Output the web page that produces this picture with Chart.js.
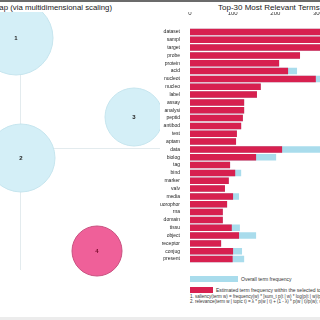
<!DOCTYPE html>
<html>
<head>
<meta charset="utf-8">
<script src="https://cdn.jsdelivr.net/npm/chart.js@4.4.1/dist/chart.umd.min.js"></script>
<style>
  body { margin: 0; width: 320px; height: 320px; overflow: hidden; background: #fff; position: relative;
         font-family: "Liberation Sans", Arial, sans-serif; color: #222; }
  .abs { position: absolute; white-space: nowrap; }
  #topbar { left: 0; top: 0; width: 320px; height: 2px; background: #6b6b6b; }
  #botbar { left: 0; top: 317px; width: 320px; height: 3px; background: #ececec; }
  #leftTitle { right: 208px; top: 3px; font-size: 7.8px; color: #1a1a1a; }
  #rightTitle { left: 218px; top: 3px; font-size: 8px; color: #1a1a1a; }
  #leftWrap { left: 0; top: 12px; width: 160px; height: 268px; overflow: hidden; }
  #rightWrap { left: 160px; top: 12px; width: 160px; height: 256px; overflow: hidden; }
  .box { position: absolute; }
  .legTxt { font-size: 5px; color: #333; }
  .note { font-size: 4.5px; color: #333; }
</style>
</head>
<body>
<div id="topbar" class="abs"></div>
<div id="leftTitle" class="abs">Intertopic Distance Map (via multidimensional scaling)</div>
<div id="rightTitle" class="abs">Top-30 Most Relevant Terms for Topic 4 (17.1% of tokens)</div>
<div id="leftWrap" class="abs"><canvas id="mds" width="160" height="268"></canvas></div>
<div id="rightWrap" class="abs"><canvas id="terms" width="320" height="256"></canvas></div>

<div class="box" style="left:190px;top:276px;width:48px;height:6px;background:#a9dcec"></div>
<div class="abs legTxt" style="left:241px;top:276px">Overall term frequency</div>
<div class="box" style="left:190px;top:287px;width:23px;height:6px;background:#d7204f"></div>
<div class="abs legTxt" style="left:216px;top:287px">Estimated term frequency within the selected topic</div>
<div class="abs note" style="left:190px;top:294px">1. saliency(term w) = frequency(w) * [sum_t p(t | w) * log(p(t | w)/p(t))] for topics t; see Chuang et. al (2012)</div>
<div class="abs note" style="left:190px;top:299px">2. relevance(term w | topic t) = λ * p(w | t) + (1 - λ) * p(w | t)/p(w); see Sievert &amp; Shirley (2014)</div>
<div id="botbar" class="abs"></div>

<script>
// intertopic distance map
const topics = ['1', '2', '3', '4'];
const pc1 = [-0.01, 0.0025, 0.285, 0.1925];
const pc2 = [0.275, -0.025, 0.0775, -0.2575];
const topicRadius = [37, 34, 29, 25];
const selectedTopic = 3;

// top-30 terms for selected topic
const terms = ['dataset', 'sampl', 'target', 'probe', 'protein', 'acid', 'nucleot', 'nucleo', 'label', 'assay',
  'analysi', 'peptid', 'antibod', 'test', 'aptam', 'data', 'biolog', 'tag', 'bind', 'marker',
  'valv', 'media', 'fluorophor', 'rna', 'domain', 'tissu', 'object', 'receptor', 'conjug', 'present'];
const estimatedFreq = [380, 360, 345, 258, 209, 230, 295, 166, 157, 127,
  127, 124, 120, 110, 108, 216, 155, 94, 106, 91,
  82, 101, 87, 77, 77, 98, 115, 73, 101, 100];
const overallFreq = [400, 380, 360, 258, 209, 251, 320, 166, 157, 127,
  127, 124, 120, 110, 108, 345, 202, 94, 120, 91,
  82, 115, 87, 77, 77, 117, 155, 73, 122, 127];
const freqTicks = [0, 100, 200, 300];

const axisLines = {
  id: 'axisLines',
  beforeDatasetsDraw(chart) {
    const { ctx, scales: { x, y } } = chart;
    ctx.save();
    ctx.strokeStyle = '#e3ebee';
    ctx.lineWidth = 1;
    ctx.beginPath();
    ctx.moveTo(Math.round(x.getPixelForValue(0)) + 0.5, y.getPixelForValue(0.3075));
    ctx.lineTo(Math.round(x.getPixelForValue(0)) + 0.5, y.getPixelForValue(-0.305));
    ctx.moveTo(x.getPixelForValue(-0.05), Math.round(y.getPixelForValue(0)) + 0.5);
    ctx.lineTo(x.getPixelForValue(0.35), Math.round(y.getPixelForValue(0)) + 0.5);
    ctx.stroke();
    ctx.fillStyle = '#999';
    ctx.font = '4.5px "Liberation Sans", Arial, sans-serif';
    ctx.textBaseline = 'top';
    ctx.fillText('PC2', x.getPixelForValue(0) + 3, y.getPixelForValue(0.3075) - 1);
    ctx.restore();
  },
  afterDatasetsDraw(chart) {
    const { ctx } = chart;
    const meta = chart.getDatasetMeta(0);
    ctx.save();
    ctx.font = 'bold 6px "Liberation Sans", Arial, sans-serif';
    ctx.textAlign = 'center';
    ctx.textBaseline = 'middle';
    meta.data.forEach((pt, i) => {
      ctx.fillStyle = i === selectedTopic ? '#7a0b2c' : '#222';
      ctx.fillText(topics[i], pt.x, pt.y);
    });
    ctx.restore();
  }
};

new Chart(document.getElementById('mds'), {
  type: 'bubble',
  data: {
    datasets: [{
      data: topics.map((t, i) => ({ x: pc1[i], y: pc2[i], r: topicRadius[i] })),
      backgroundColor: topics.map((t, i) => i === selectedTopic ? '#ef6099' : '#d4eff7'),
      borderColor: topics.map((t, i) => i === selectedTopic ? '#c8507f' : '#c6e5ee'),
      borderWidth: 1,
      clip: false
    }]
  },
  options: {
    responsive: false,
    animation: false,
    layout: { padding: 0, autoPadding: false },
    plugins: { legend: { display: false }, tooltip: { enabled: false } },
    scales: {
      x: { type: 'linear', min: -0.05, max: 0.35, display: false },
      y: { type: 'linear', min: -0.33, max: 0.34, display: false }
    }
  },
  plugins: [axisLines]
});

new Chart(document.getElementById('terms'), {
  type: 'bar',
  data: {
    labels: terms,
    datasets: [
      { label: 'Estimated term frequency within the selected topic', data: estimatedFreq, backgroundColor: '#d7204f' },
      { label: 'Overall term frequency', data: overallFreq, backgroundColor: '#a9dcec' }
    ]
  },
  options: {
    indexAxis: 'y',
    responsive: false,
    animation: false,
    layout: { padding: 0, autoPadding: false },
    datasets: { bar: { grouped: false, barPercentage: 0.82, categoryPercentage: 1 } },
    plugins: { legend: { display: false }, tooltip: { enabled: false } },
    scales: {
      x: {
        position: 'top', min: 0, max: 680,
        grid: { display: false }, border: { display: false },
        afterBuildTicks: s => { s.ticks = freqTicks.map(v => ({ value: v })); },
        afterFit: s => { s.height = 16; },
        ticks: { padding: 3, color: '#333', font: { size: 6, family: '"Liberation Sans", Arial, sans-serif' } }
      },
      y: {
        grid: { display: false }, border: { display: false },
        afterFit: s => { s.width = 30; },
        ticks: { autoSkip: false, padding: 2, color: '#222', font: { size: 5, family: '"Liberation Sans", Arial, sans-serif' } }
      }
    }
  }
});
</script>
</body>
</html>
